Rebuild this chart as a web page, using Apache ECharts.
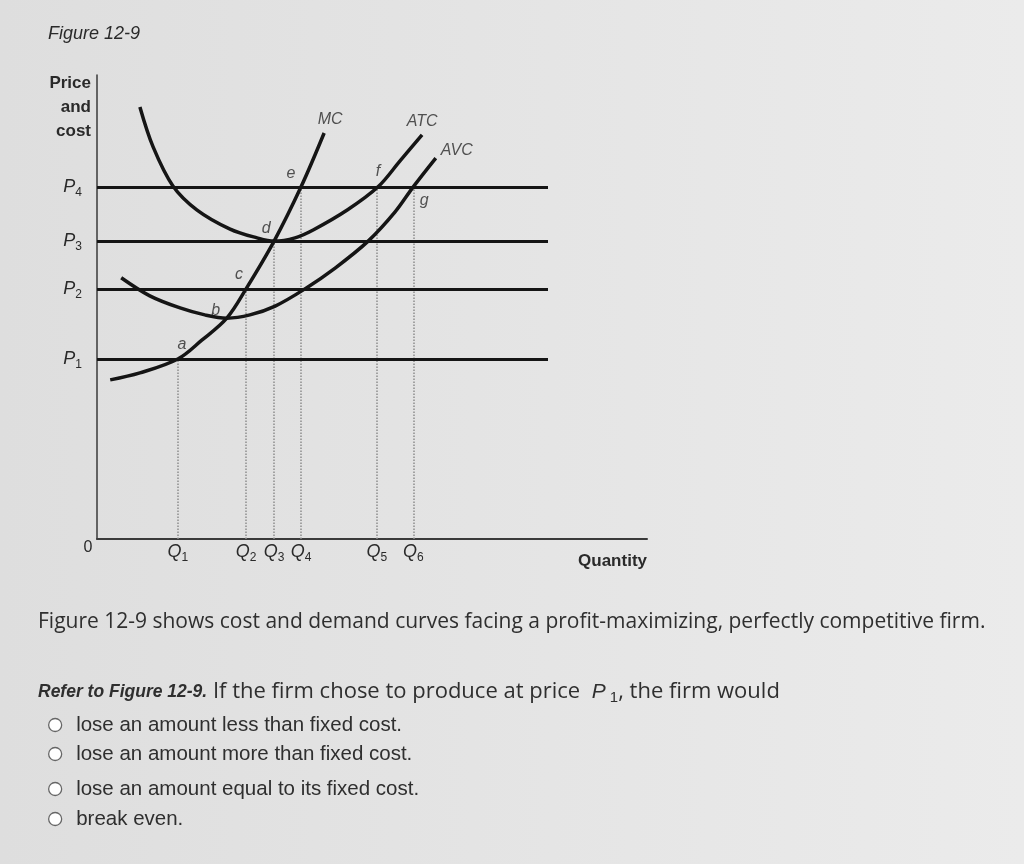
<!DOCTYPE html>
<html><head><meta charset="utf-8">
<script src="https://cdn.jsdelivr.net/npm/echarts@6/dist/echarts.min.js"></script>
<style>html,body{margin:0;padding:0;background:#e4e4e4}#c{width:1024px;height:864px}</style>
</head><body><div id="c"></div>
<script>
// ---- data (arbitrary units 0..100) ----
const priceTicks = [38.8, 53.9, 64.2, 75.9];
const priceSubs = ['1', '2', '3', '4'];
const qTicks = [14.7, 27.1, 32.2, 37.1, 50.9, 57.5];
const qSubs = ['1', '2', '3', '4', '5', '6'];
const qHeights = [38.8, 53.9, 64.2, 75.9, 75.9, 75.9];
const priceLineEnd = 82;
const mcCurve = [[2.4, 34.3], [7.8, 35.8], [14.7, 38.8], [19.0, 42.8], [23.6, 47.6], [27.1, 53.9], [32.2, 64.2], [37.1, 75.9], [41.3, 87.5]];
const avcCurve = [[4.4, 56.3], [9.6, 52.4], [15.1, 49.8], [19.6, 48.3], [23.6, 47.6], [27.8, 48.3], [32.4, 50.2], [37.8, 53.9], [43.3, 58.4], [49.3, 64.2], [54.2, 70.5], [57.5, 75.9], [61.6, 82.1]];
const atcCurve = [[7.8, 93.1], [10.2, 84.5], [13.8, 76.1], [18.2, 70.9], [24.2, 66.8], [29.1, 64.9], [32.2, 64.2], [36.0, 64.9], [39.3, 66.6], [45.5, 70.9], [51.1, 75.9], [55.1, 81.5], [59.1, 87.1]];
const curveNames = ['MC', 'ATC', 'AVC'];
const pointNames = ['a', 'b', 'c', 'd', 'e', 'f', 'g'];
const pointX = [14.7, 23.6, 27.1, 32.2, 37.1, 50.9, 57.5];
const pointY = [38.8, 47.6, 53.9, 64.2, 75.9, 75.9, 75.9];
const answers = ['lose an amount less than fixed cost.', 'lose an amount more than fixed cost.', 'lose an amount equal to its fixed cost.', 'break even.'];

// ---- styling ----
const ink = '#151515';
const textCol = '#2a2a2a';
const pointLabelOffsets = [[4, -14], [-11, -8], [-7, -14], [-8, -13], [-10, -13], [1, -15], [11, 14]];
const curveLabelStyles = [
  { position: 'top', offset: [6, 0] },
  { position: 'top', offset: [0, 0] },
  { position: 'right', offset: [0, -8] }
];
const answerTops = [715, 744, 779, 809];

const chart = echarts.init(document.getElementById('c'));
const curves = [mcCurve, atcCurve, avcCurve];
const subRich = {
  p: { fontFamily: 'Liberation Sans', fontStyle: 'italic', fontSize: 18, color: textCol },
  s: { fontFamily: 'Liberation Sans', fontSize: 12, color: textCol, padding: [12, 0, 0, 0] },
  z: { fontFamily: 'Liberation Sans', fontSize: 16, color: textCol, padding: [0, 18, 0, 0] }
};

chart.setOption({
  backgroundColor: {
    type: 'linear', x: 0, y: 0, x2: 1, y2: 0,
    colorStops: [{ offset: 0, color: '#dedede' }, { offset: 1, color: '#ebebeb' }]
  },
  animation: false,
  title: {
    text: 'Figure 12-9', left: 43, top: 20,
    textStyle: { fontFamily: 'Liberation Sans', fontStyle: 'italic', fontWeight: 'normal', fontSize: 18, color: textCol }
  },
  grid: { left: 97, right: 377, top: 75, bottom: 325 },
  xAxis: {
    type: 'value', min: 0, max: 100,
    name: 'Quantity', nameLocation: 'end', nameGap: 0,
    nameTextStyle: { fontFamily: 'Liberation Sans', fontWeight: 'bold', fontSize: 17, color: textCol, align: 'right', verticalAlign: 'top', padding: [14, 0, 0, 0] },
    axisLine: { lineStyle: { color: '#3a3a3a', width: 2 } },
    axisTick: { show: false },
    splitLine: { show: false },
    axisLabel: {
      customValues: [0].concat(qTicks), margin: 1,
      formatter: v => v === 0 ? '{z|0}' : '{p|Q}{s|' + qSubs[qTicks.indexOf(v)] + '}',
      rich: subRich
    }
  },
  yAxis: {
    type: 'value', min: 0, max: 100,
    name: 'Price\nand\ncost', nameLocation: 'end', nameGap: 4,
    nameTextStyle: { fontFamily: 'Liberation Sans', fontWeight: 'bold', fontSize: 17, lineHeight: 24, color: textCol, align: 'right', verticalAlign: 'top', padding: [0, 6, 0, 0] },
    axisLine: { show: true, lineStyle: { color: '#3a3a3a', width: 1.5 } },
    axisTick: { show: false },
    splitLine: { show: false },
    axisLabel: {
      customValues: priceTicks, margin: 15,
      formatter: v => '{p|P}{s|' + priceSubs[priceTicks.indexOf(v)] + '}',
      rich: subRich
    }
  },
  series: [
    {
      type: 'lines', coordinateSystem: 'cartesian2d', silent: true, z: 1,
      lineStyle: { type: 'dotted', color: '#8c8c8c', width: 1.5, opacity: 1 },
      data: qTicks.map((q, i) => ({ coords: [[q, 0], [q, qHeights[i]]] }))
    },
    {
      type: 'lines', coordinateSystem: 'cartesian2d', silent: true, z: 2,
      lineStyle: { color: ink, width: 3, opacity: 1 },
      data: priceTicks.map(p => ({ coords: [[0, p], [priceLineEnd, p]] }))
    },
    ...curves.map((c, i) => ({
      type: 'line', name: curveNames[i], data: c, smooth: 0.35, showSymbol: false, silent: true, z: 3,
      lineStyle: { color: ink, width: 3.5 }
    })),
    {
      type: 'scatter', symbolSize: 0, silent: true, z: 4,
      data: curves.map((c, i) => ({
        value: [c[c.length - 1][0], c[c.length - 1][1], curveNames[i]],
        label: curveLabelStyles[i]
      })),
      label: { show: true, formatter: p => p.data.value[2], fontFamily: 'Liberation Sans', fontStyle: 'italic', fontSize: 16, color: textCol }
    },
    {
      type: 'scatter', symbolSize: 0, silent: true, z: 4,
      data: pointNames.map((n, i) => ({ value: [pointX[i], pointY[i], n], label: { offset: pointLabelOffsets[i] } })),
      label: { show: true, position: 'inside', formatter: p => p.data.value[2], fontFamily: 'Liberation Sans', fontStyle: 'italic', fontSize: 16, color: textCol }
    }
  ],
  graphic: [
    { type: 'text', left: 38, top: 612, style: { text: 'Figure 12-9 shows cost and demand curves facing a profit-maximizing, perfectly competitive firm.', font: '21px "Open Sans"', fill: '#2f2f2f' } },
    { type: 'text', left: 38, top: 681, style: {
      text: '{b|Refer to Figure 12-9.}{n| If the firm chose to produce at price }{p| P}{s| 1}{n|, the firm would}',
      rich: {
        b: { font: 'italic bold 17.5px "Liberation Sans"', fill: '#2f2f2f' },
        n: { font: '22px "Open Sans"', fill: '#2f2f2f' },
        p: { font: 'italic 21px "Liberation Sans"', fill: '#2f2f2f' },
        s: { font: '15px "Liberation Sans"', fill: '#2f2f2f', padding: [12, 0, 0, 0] }
      } } },
    ...answers.map((t, i) => ({
      type: 'group', left: 48, top: answerTops[i],
      children: [
        { type: 'circle', shape: { cx: 8, cy: 10, r: 6.5 }, style: { fill: '#ffffff', stroke: '#666', lineWidth: 1.3 } },
        { type: 'text', x: 29, y: 0, style: { text: t, font: '20.5px "Liberation Sans"', fill: '#2f2f2f' } }
      ]
    }))
  ]
});
</script></body></html>
